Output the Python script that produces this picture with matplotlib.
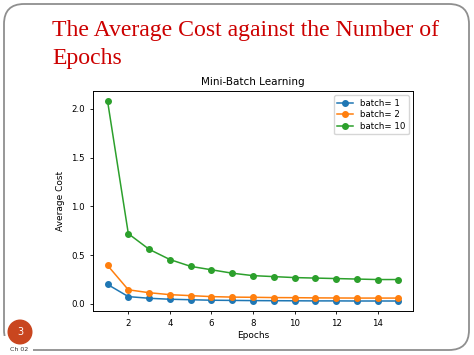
import matplotlib
matplotlib.use("Agg")
import matplotlib.pyplot as plt
from matplotlib.patches import FancyBboxPatch, Rectangle, Circle

# data
epochs = list(range(1, 16))
cost_b1 = [0.20, 0.075, 0.058, 0.048, 0.043, 0.038, 0.036, 0.034, 0.033, 0.032, 0.031, 0.031, 0.030, 0.030, 0.030]
cost_b2 = [0.395, 0.145, 0.115, 0.095, 0.085, 0.075, 0.070, 0.068, 0.065, 0.064, 0.062, 0.061, 0.060, 0.060, 0.060]
cost_b10 = [2.08, 0.72, 0.56, 0.455, 0.385, 0.35, 0.315, 0.29, 0.28, 0.27, 0.265, 0.26, 0.255, 0.25, 0.25]
labels = ['batch= 1', 'batch= 2', 'batch= 10']

title_lines = ['The Average Cost against the Number of', 'Epochs']
W, H = 474, 355

fig = plt.figure(figsize=(W / 100, H / 100), dpi=100)

# slide background in pixel coords
bg = fig.add_axes([0, 0, 1, 1])
bg.set_xlim(0, W)
bg.set_ylim(H, 0)
bg.axis('off')

frame = FancyBboxPatch((4, 4), 465, 346, boxstyle='round,pad=0,rounding_size=20',
                       fc='none', ec='#8f8f8f', lw=1.3)
bg.add_patch(frame)
bg.add_patch(Rectangle((0, 336), 33, 19, fc='white', ec='none'))
bg.add_patch(Circle((20, 332), 12.5, fc='#c9461f', ec='none'))
bg.text(20, 332, '3', color='white', fontsize=7, ha='center', va='center')
bg.text(19, 349.5, 'Ch 02', color='#333333', fontsize=4.5, ha='center', va='center')

# slide title, one text per line
for i, line in enumerate(title_lines):
    bg.text(52, 36 + 28 * i, line, color='#cc0000', fontsize=17.1,
            family='Liberation Serif', ha='left', va='baseline')

# the chart itself
ax = fig.add_axes([93 / W, 1 - 311 / H, 320 / W, 220 / H])
ax.plot(epochs, cost_b1, '-o', color='#1f77b4', ms=4, lw=1.1, label=labels[0])
ax.plot(epochs, cost_b2, '-o', color='#ff7f0e', ms=4, lw=1.1, label=labels[1])
ax.plot(epochs, cost_b10, '-o', color='#2ca02c', ms=4, lw=1.1, label=labels[2])

ax.set_xticks([2, 4, 6, 8, 10, 12, 14])
ax.set_yticks([0.0, 0.5, 1.0, 1.5, 2.0])
ax.tick_params(labelsize=6.2, length=2.5, width=0.6)
ax.set_title('Mini-Batch Learning', fontsize=7.5, pad=4)
ax.set_xlabel('Epochs', fontsize=6.5, labelpad=2)
ax.set_ylabel('Average Cost', fontsize=6.5, labelpad=4)
for s in ax.spines.values():
    s.set_linewidth(0.7)
ax.legend(fontsize=6.2, loc='upper right', handlelength=1.8, borderpad=0.4, labelspacing=0.3)

fig.savefig('out.png', dpi=100)
